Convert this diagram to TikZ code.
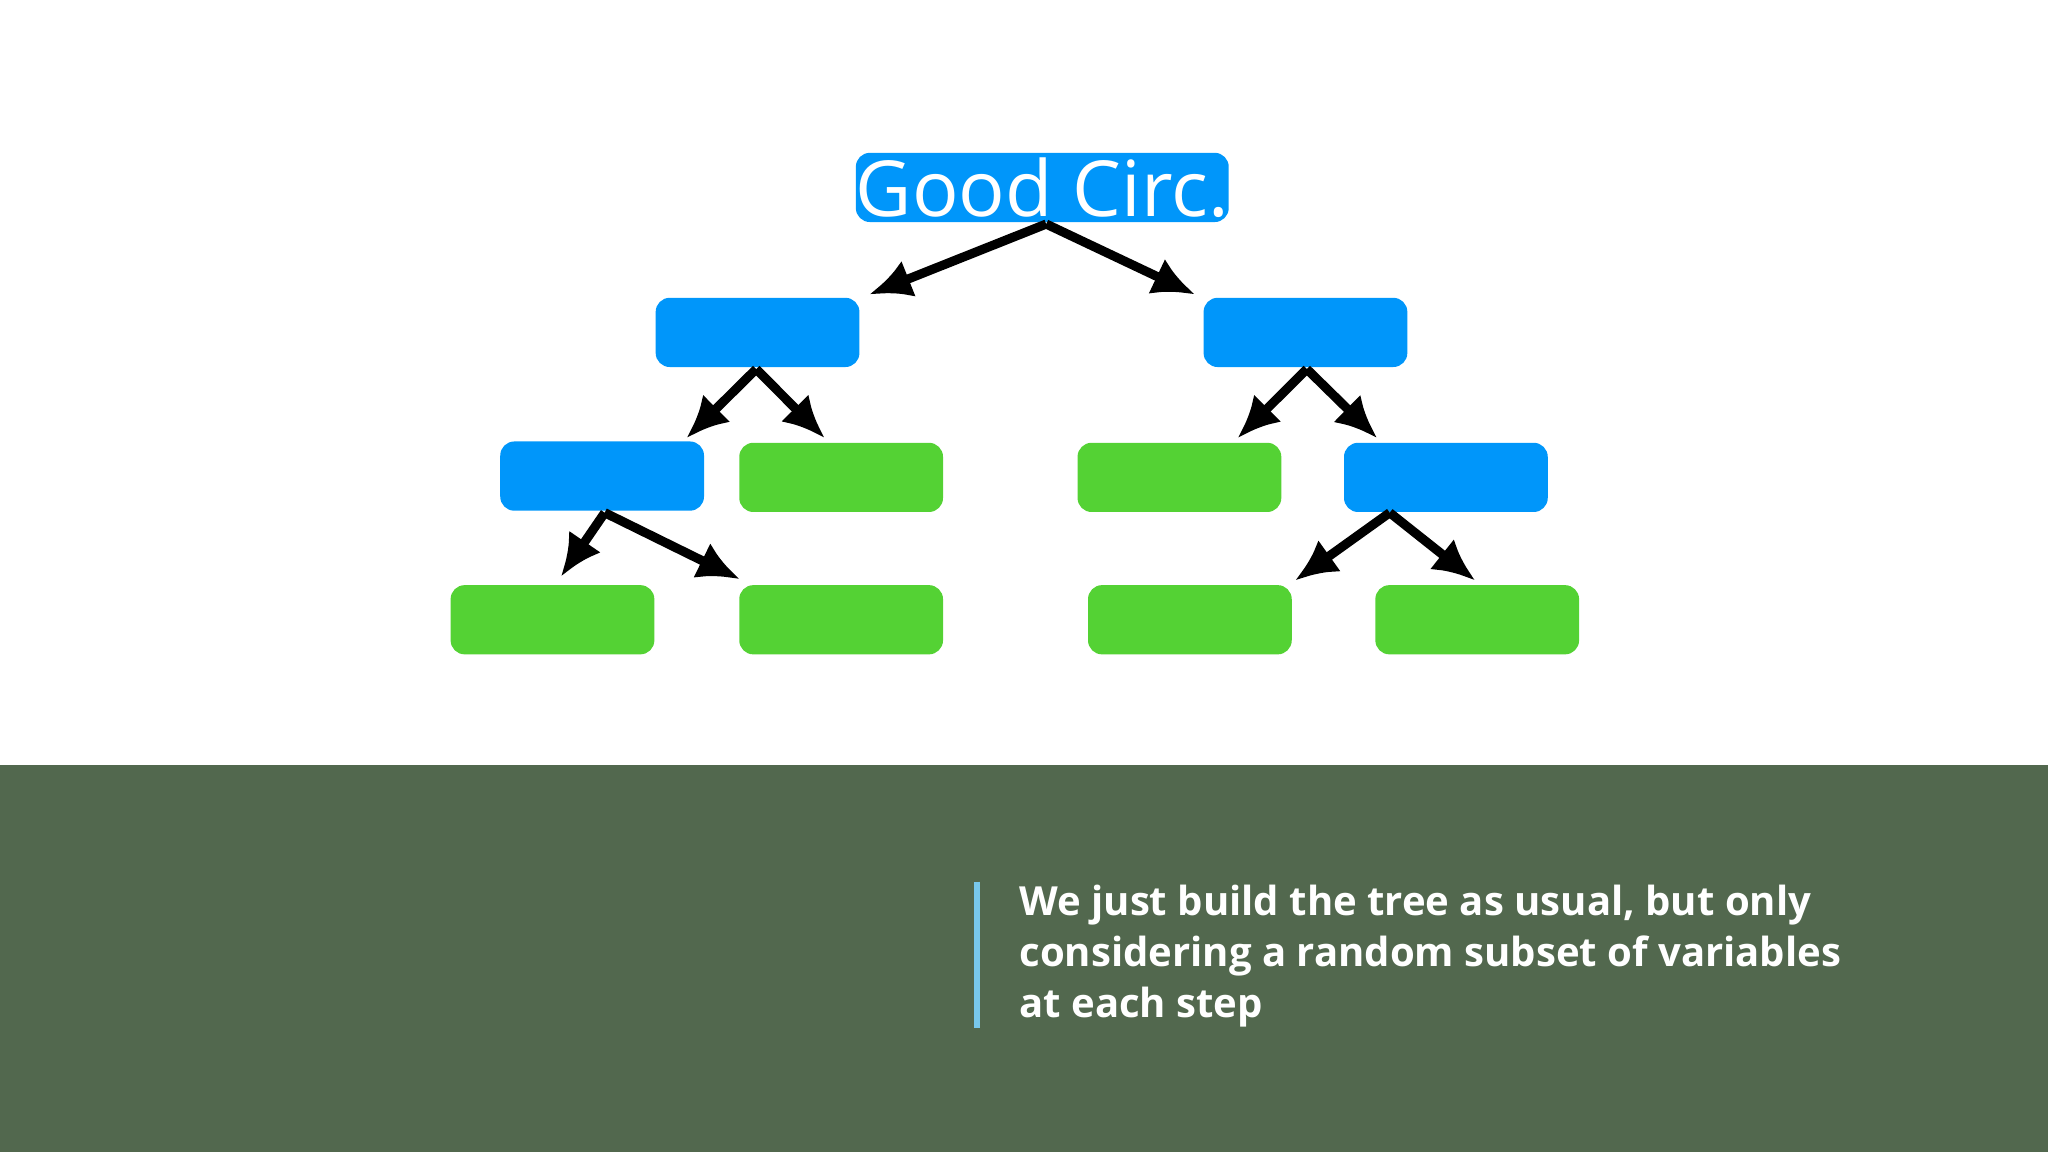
\documentclass[tikz,border=0pt]{standalone}
\usepackage{fontspec}
\setmainfont{Open Sans}
\usetikzlibrary{calc}
\definecolor{bl}{RGB}{0,150,250}
\definecolor{gr}{RGB}{84,210,52}
\definecolor{band}{RGB}{82,104,78}
\definecolor{vl}{RGB}{120,200,235}
\begin{document}
\begin{tikzpicture}[x=0.01306cm,y=-0.01306cm,
  box/.style={rounded corners=4pt,minimum width=156*0.01306cm,minimum height=53*0.01306cm,inner sep=0pt},
  B/.style={box,fill=bl},G/.style={box,fill=gr},
  ar/.style={line width=2.6pt,-{Latex[length=12pt,width=11pt]}}]
\usetikzlibrary{arrows.meta}
\useasboundingbox (0,0) rectangle (1568,882);
\fill[band] (0,586) rectangle (1568,882);
\node[B,minimum width=210*0.01306cm,text=white,font=\fontsize{22}{26}\selectfont] (root) at (798,143.5) {Good Circ.};
\node[B] (a) at (580,254.5) {};
\node[B] (b) at (999.5,254.5) {};
\node[B] (c) at (461,364.5) {};
\node[G] (d) at (644,365.5) {};
\node[G] (e) at (903,365.5) {};
\node[B] (f) at (1107,365.5) {};
\node[G] (g) at (423,474.5) {};
\node[G] (h) at (644,474.5) {};
\node[G] (i) at (911,474.5) {};
\node[G] (j) at (1131,474.5) {};
\draw[ar] ($(root.south)+(3,1)$) -- ($(a.north east)+(7,-2)$);
\draw[ar] ($(root.south)+(3,1)$) -- ($(b.north west)+(-6,-2)$);
\draw[ar] ($(a.south)+(-1,1)$) -- ($(c.north east)+(-14,-2)$);
\draw[ar] ($(a.south)+(-1,1)$) -- ($(d.north west)+(66,-3)$);
\draw[ar] ($(b.south)+(1,1)$) -- ($(e.north east)+(-34,-3)$);
\draw[ar] ($(b.south)+(1,1)$) -- ($(f.north west)+(26,-3)$);
\draw[ar] ($(c.south)+(2,1)$) -- ($(g.north west)+(85,-6)$);
\draw[ar] ($(c.south)+(2,1)$) -- ($(h.north west)+(1,-4)$);
\draw[ar] ($(f.south)+(-43,0)$) -- ($(i.north east)+(2,-3)$);
\draw[ar] ($(f.south)+(-43,0)$) -- ($(j.north west)+(77,-3)$);
\coordinate (v1) at (748,675);
\coordinate (v2) at (748,787);
\draw[vl,line width=1.5pt] (v1) -- (v2);
\node[anchor=north west,text=white,font=\bfseries\fontsize{11.4}{14.5}\selectfont,align=left,inner sep=0pt] (t) at (780,677)
{We just build the tree as usual, but only\\considering a random subset of variables\\at each step};
\end{tikzpicture}
\end{document}
